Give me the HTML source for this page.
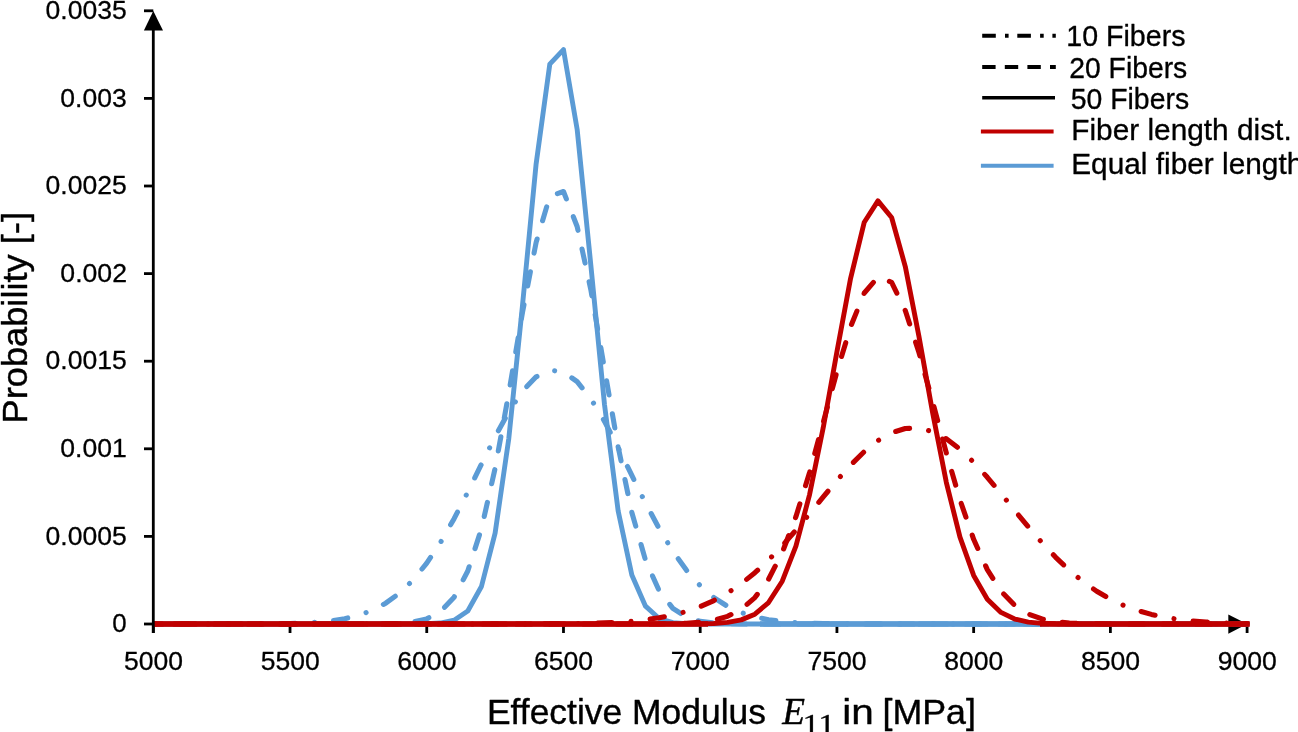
<!DOCTYPE html>
<html lang="en"><head><meta charset="utf-8"><title>Probability of Effective Modulus</title>
<style>html,body{margin:0;padding:0;background:#fff}body{width:1298px;height:732px;overflow:hidden}svg{display:block}</style>
</head><body>
<svg width="1298" height="732" viewBox="0 0 1298 732">
<rect width="1298" height="732" fill="#fff"/>
<g stroke="#000" stroke-width="2.8" fill="none">
<line x1="153.3" y1="624.0" x2="1240" y2="624.0"/>
<line x1="153.30" y1="624.0" x2="153.30" y2="633"/>
<line x1="290.03" y1="624.0" x2="290.03" y2="633"/>
<line x1="426.75" y1="624.0" x2="426.75" y2="633"/>
<line x1="563.48" y1="624.0" x2="563.48" y2="633"/>
<line x1="700.20" y1="624.0" x2="700.20" y2="633"/>
<line x1="836.93" y1="624.0" x2="836.93" y2="633"/>
<line x1="973.65" y1="624.0" x2="973.65" y2="633"/>
<line x1="1110.38" y1="624.0" x2="1110.38" y2="633"/>
<line x1="1247.10" y1="624.0" x2="1247.10" y2="633"/>
</g>
<polygon points="1228.3,614.4 1228.3,633.7 1247.2,624" fill="#000"/>
<clipPath id="plotclip"><rect x="152.6" y="0" width="1100" height="640"/></clipPath>
<g id="series" clip-path="url(#plotclip)">
<path d="M760 624H1042" stroke="#5b9bd5" stroke-width="5.7" fill="none"/>
<polyline points="153.30,624.00 166.97,624.00 180.65,624.00 194.32,624.00 207.99,623.99 221.66,623.99 235.34,623.97 249.01,623.93 262.68,623.86 276.35,623.72 290.03,623.46 303.70,623.00 317.37,622.19 331.04,620.85 344.72,618.69 358.39,615.35 372.06,610.34 385.73,603.15 399.41,593.20 413.08,579.99 426.75,563.15 440.42,542.61 454.10,518.66 467.77,492.11 481.44,464.24 495.11,436.77 508.79,411.71 522.46,391.12 536.13,376.84 549.80,370.22 563.48,371.89 577.15,381.69 590.82,398.69 604.49,421.31 618.17,447.58 631.84,475.45 645.51,502.98 659.18,528.61 672.86,551.26 686.53,570.33 700.20,585.70 713.87,597.55 727.55,606.33 741.22,612.58 754.89,616.86 768.56,619.68 782.24,621.47 795.91,622.57 809.58,623.21 823.25,623.58 836.93,623.79 850.60,623.89 864.27,623.95 877.94,623.98 891.62,623.99 905.29,624.00 918.96,624.00 932.63,624.00 946.31,624.00 959.98,624.00 973.65,624.00 987.32,624.00 1001.00,624.00 1014.67,624.00 1028.34,624.00 1042.01,624.00 1055.69,624.00 1069.36,624.00 1083.03,624.00 1096.70,624.00 1110.38,624.00 1124.05,624.00 1137.72,624.00 1151.39,624.00 1165.07,624.00 1178.74,624.00 1192.41,624.00 1206.08,624.00 1219.76,624.00 1233.43,624.00 1247.10,624.00" fill="none" stroke="#5b9bd5" stroke-width="5.1" stroke-linecap="round" stroke-linejoin="round" stroke-dasharray="14.40 19.165 0.01 19.155" stroke-dashoffset="30.54"/>
<polyline points="153.30,624.00 166.97,624.00 180.65,624.00 194.32,624.00 207.99,624.00 221.66,624.00 235.34,624.00 249.01,624.00 262.68,624.00 276.35,624.00 290.03,624.00 303.70,624.00 317.37,624.00 331.04,624.00 344.72,624.00 358.39,623.98 372.06,623.94 385.73,623.79 399.41,623.33 413.08,622.06 426.75,618.87 440.42,611.71 454.10,597.22 467.77,571.02 481.44,528.75 495.11,468.40 508.79,393.05 522.46,312.54 536.13,242.37 549.80,196.30 563.48,191.50 577.15,226.50 590.82,289.62 604.49,368.82 618.17,447.06 631.84,512.52 645.51,560.19 659.18,590.81 672.86,608.31 686.53,617.26 700.20,621.37 713.87,623.07 727.55,623.70 741.22,623.91 754.89,623.98 768.56,623.99 782.24,624.00 795.91,624.00 809.58,624.00 823.25,624.00 836.93,624.00 850.60,624.00 864.27,624.00 877.94,624.00 891.62,624.00 905.29,624.00 918.96,624.00 932.63,624.00 946.31,624.00 959.98,624.00 973.65,624.00 987.32,624.00 1001.00,624.00 1014.67,624.00 1028.34,624.00 1042.01,624.00 1055.69,624.00 1069.36,624.00 1083.03,624.00 1096.70,624.00 1110.38,624.00 1124.05,624.00 1137.72,624.00 1151.39,624.00 1165.07,624.00 1178.74,624.00 1192.41,624.00 1206.08,624.00 1219.76,624.00 1233.43,624.00 1247.10,624.00" fill="none" stroke="#5b9bd5" stroke-width="5.1" stroke-linecap="round" stroke-linejoin="round" stroke-dasharray="14.40 19.107" stroke-dashoffset="6.21"/>
<polyline points="153.30,624.00 166.97,624.00 180.65,624.00 194.32,624.00 207.99,624.00 221.66,624.00 235.34,624.00 249.01,624.00 262.68,624.00 276.35,624.00 290.03,624.00 303.70,624.00 317.37,624.00 331.04,624.00 344.72,624.00 358.39,624.00 372.06,624.00 385.73,624.00 399.41,624.00 413.08,623.97 426.75,623.81 440.42,623.06 454.10,620.19 467.77,610.97 481.44,586.49 495.11,533.11 508.79,438.61 522.46,305.66 536.13,163.85 549.80,64.06 563.48,49.60 577.15,129.34 590.82,264.89 604.49,404.53 618.17,511.09 631.84,575.10 645.51,606.17 659.18,618.53 672.86,622.59 686.53,623.69 700.20,623.94 713.87,623.99 727.55,624.00 741.22,624.00 754.89,624.00 768.56,624.00 782.24,624.00 795.91,624.00 809.58,624.00 823.25,624.00 836.93,624.00 850.60,624.00 864.27,624.00 877.94,624.00 891.62,624.00 905.29,624.00 918.96,624.00 932.63,624.00 946.31,624.00 959.98,624.00 973.65,624.00 987.32,624.00 1001.00,624.00 1014.67,624.00 1028.34,624.00 1042.01,624.00 1055.69,624.00 1069.36,624.00 1083.03,624.00 1096.70,624.00 1110.38,624.00 1124.05,624.00 1137.72,624.00 1151.39,624.00 1165.07,624.00 1178.74,624.00 1192.41,624.00 1206.08,624.00 1219.76,624.00 1233.43,624.00 1247.10,624.00" fill="none" stroke="#5b9bd5" stroke-width="4.9" stroke-linecap="square" stroke-linejoin="round"/>
<path d="M153.3 624H708M1040 624H1249.6" stroke="#c00000" stroke-width="5.7" fill="none"/>
<polyline points="153.30,624.00 166.97,624.00 180.65,624.00 194.32,624.00 207.99,624.00 221.66,624.00 235.34,624.00 249.01,624.00 262.68,624.00 276.35,624.00 290.03,624.00 303.70,624.00 317.37,624.00 331.04,624.00 344.72,624.00 358.39,624.00 372.06,624.00 385.73,624.00 399.41,624.00 413.08,624.00 426.75,624.00 440.42,624.00 454.10,624.00 467.77,624.00 481.44,623.99 495.11,623.98 508.79,623.97 522.46,623.94 536.13,623.90 549.80,623.83 563.48,623.72 577.15,623.53 590.82,623.24 604.49,622.80 618.17,622.13 631.84,621.15 645.51,619.75 659.18,617.78 672.86,615.07 686.53,611.44 700.20,606.68 713.87,600.59 727.55,592.99 741.22,583.73 754.89,572.73 768.56,560.03 782.24,545.74 795.91,530.17 809.58,513.71 823.25,496.93 836.93,480.48 850.60,465.11 864.27,451.57 877.94,440.57 891.62,432.72 905.29,428.48 918.96,428.09 932.63,431.58 946.31,438.73 959.98,449.15 973.65,462.23 987.32,477.30 1001.00,493.59 1014.67,510.36 1028.34,526.93 1042.01,542.72 1055.69,557.29 1069.36,570.33 1083.03,581.67 1096.70,591.27 1110.38,599.20 1124.05,605.58 1137.72,610.58 1151.39,614.42 1165.07,617.30 1178.74,619.40 1192.41,620.91 1206.08,621.96 1219.76,622.68 1233.43,623.17 1247.10,623.48" fill="none" stroke="#c00000" stroke-width="5.1" stroke-linecap="round" stroke-linejoin="round" stroke-dasharray="14.40 19.247 0.01 19.237" stroke-dashoffset="31.94"/>
<polyline points="153.30,624.00 166.97,624.00 180.65,624.00 194.32,624.00 207.99,624.00 221.66,624.00 235.34,624.00 249.01,624.00 262.68,624.00 276.35,624.00 290.03,624.00 303.70,624.00 317.37,624.00 331.04,624.00 344.72,624.00 358.39,624.00 372.06,624.00 385.73,624.00 399.41,624.00 413.08,624.00 426.75,624.00 440.42,624.00 454.10,624.00 467.77,624.00 481.44,624.00 495.11,624.00 508.79,624.00 522.46,624.00 536.13,624.00 549.80,624.00 563.48,624.00 577.15,624.00 590.82,624.00 604.49,624.00 618.17,624.00 631.84,623.99 645.51,623.96 659.18,623.88 672.86,623.69 686.53,623.24 700.20,622.26 713.87,620.23 727.55,616.34 741.22,609.33 754.89,597.58 768.56,579.21 782.24,552.55 795.91,516.71 809.58,472.39 823.25,422.36 836.93,371.62 850.60,326.70 864.27,293.00 877.94,277.20 891.62,282.30 905.29,310.50 918.96,352.56 932.63,401.81 946.31,452.83 959.98,499.89 973.65,539.32 987.32,569.62 1001.00,591.13 1014.67,605.30 1028.34,613.99 1042.01,618.96 1055.69,621.61 1069.36,622.93 1083.03,623.55 1096.70,623.82 1110.38,623.93 1124.05,623.98 1137.72,623.99 1151.39,624.00 1165.07,624.00 1178.74,624.00 1192.41,624.00 1206.08,624.00 1219.76,624.00 1233.43,624.00 1247.10,624.00" fill="none" stroke="#c00000" stroke-width="5.1" stroke-linecap="round" stroke-linejoin="round" stroke-dasharray="14.40 19.129" stroke-dashoffset="5.53"/>
<polyline points="153.30,624.00 166.97,624.00 180.65,624.00 194.32,624.00 207.99,624.00 221.66,624.00 235.34,624.00 249.01,624.00 262.68,624.00 276.35,624.00 290.03,624.00 303.70,624.00 317.37,624.00 331.04,624.00 344.72,624.00 358.39,624.00 372.06,624.00 385.73,624.00 399.41,624.00 413.08,624.00 426.75,624.00 440.42,624.00 454.10,624.00 467.77,624.00 481.44,624.00 495.11,624.00 508.79,624.00 522.46,624.00 536.13,624.00 549.80,624.00 563.48,624.00 577.15,624.00 590.82,624.00 604.49,624.00 618.17,624.00 631.84,624.00 645.51,624.00 659.18,624.00 672.86,623.99 686.53,623.95 700.20,623.82 713.87,623.45 727.55,622.43 741.22,619.88 754.89,614.16 768.56,602.53 782.24,581.22 795.91,546.15 809.58,494.60 823.25,427.59 836.93,351.72 850.60,278.30 864.27,222.20 877.94,200.90 891.62,217.50 905.29,266.55 918.96,336.49 932.63,412.80 946.31,482.31 959.98,537.19 973.65,575.43 987.32,599.18 1001.00,612.42 1014.67,619.06 1028.34,622.08 1042.01,623.32 1055.69,623.78 1069.36,623.93 1083.03,623.98 1096.70,624.00 1110.38,624.00 1124.05,624.00 1137.72,624.00 1151.39,624.00 1165.07,624.00 1178.74,624.00 1192.41,624.00 1206.08,624.00 1219.76,624.00 1233.43,624.00 1247.10,624.00" fill="none" stroke="#c00000" stroke-width="4.9" stroke-linecap="square" stroke-linejoin="round"/>
</g>
<g stroke="#000" stroke-width="2.8" fill="none">
<line x1="153.3" y1="25" x2="153.3" y2="633"/>
<line x1="144" y1="624.00" x2="153.3" y2="624.00"/>
<line x1="144" y1="536.40" x2="153.3" y2="536.40"/>
<line x1="144" y1="448.80" x2="153.3" y2="448.80"/>
<line x1="144" y1="361.20" x2="153.3" y2="361.20"/>
<line x1="144" y1="273.60" x2="153.3" y2="273.60"/>
<line x1="144" y1="186.00" x2="153.3" y2="186.00"/>
<line x1="144" y1="98.40" x2="153.3" y2="98.40"/>
<line x1="144" y1="10.80" x2="153.3" y2="10.80"/>
</g>
<polygon points="153.3,11 143.9,30.5 163,30.5" fill="#000"/>
<g fill="#000" stroke="#000" stroke-linejoin="round">
<text transform="matrix(1.0329 0 0 1 112.26 632.15)" font-family='"Liberation Sans", sans-serif' font-size="25.07" stroke-width="0.28">0</text>
<text transform="matrix(1.0592 0 0 1 45.54 544.55)" font-family='"Liberation Sans", sans-serif' font-size="25.07" stroke-width="0.28">0.0005</text>
<text transform="matrix(1.0604 0 0 1 60.34 456.95)" font-family='"Liberation Sans", sans-serif' font-size="25.07" stroke-width="0.28">0.001</text>
<text transform="matrix(1.0592 0 0 1 45.54 369.35)" font-family='"Liberation Sans", sans-serif' font-size="25.07" stroke-width="0.28">0.0015</text>
<text transform="matrix(1.0626 0 0 1 60.33 281.75)" font-family='"Liberation Sans", sans-serif' font-size="25.07" stroke-width="0.28">0.002</text>
<text transform="matrix(1.0592 0 0 1 45.54 194.15)" font-family='"Liberation Sans", sans-serif' font-size="25.07" stroke-width="0.28">0.0025</text>
<text transform="matrix(1.0582 0 0 1 60.34 106.55)" font-family='"Liberation Sans", sans-serif' font-size="25.07" stroke-width="0.28">0.003</text>
<text transform="matrix(1.0592 0 0 1 45.54 18.95)" font-family='"Liberation Sans", sans-serif' font-size="25.07" stroke-width="0.28">0.0035</text>
<text transform="matrix(1.0348 0 0 1 124.04 669.54)" font-family='"Liberation Sans", sans-serif' font-size="25.63" stroke-width="0.28">5000</text>
<text transform="matrix(1.0348 0 0 1 260.76 669.54)" font-family='"Liberation Sans", sans-serif' font-size="25.63" stroke-width="0.28">5500</text>
<text transform="matrix(1.0397 0 0 1 397.22 669.54)" font-family='"Liberation Sans", sans-serif' font-size="25.63" stroke-width="0.28">6000</text>
<text transform="matrix(1.0397 0 0 1 533.94 669.54)" font-family='"Liberation Sans", sans-serif' font-size="25.63" stroke-width="0.28">6500</text>
<text transform="matrix(1.0397 0 0 1 670.67 669.54)" font-family='"Liberation Sans", sans-serif' font-size="25.63" stroke-width="0.28">7000</text>
<text transform="matrix(1.0397 0 0 1 807.39 669.54)" font-family='"Liberation Sans", sans-serif' font-size="25.63" stroke-width="0.28">7500</text>
<text transform="matrix(1.0373 0 0 1 944.25 669.54)" font-family='"Liberation Sans", sans-serif' font-size="25.63" stroke-width="0.28">8000</text>
<text transform="matrix(1.0373 0 0 1 1080.98 669.54)" font-family='"Liberation Sans", sans-serif' font-size="25.63" stroke-width="0.28">8500</text>
<text transform="matrix(1.0373 0 0 1 1217.70 669.54)" font-family='"Liberation Sans", sans-serif' font-size="25.63" stroke-width="0.28">9000</text>
<text transform="matrix(1.0321 0 0 1 486.96 723.70)" font-family='"Liberation Sans", sans-serif' font-size="34.35" stroke-width="0.38">Effective Modulus</text>
<text transform="matrix(1.1780 0 0 1 842.37 723.70)" font-family='"Liberation Sans", sans-serif' font-size="34.35" stroke-width="0.38">in</text>
<text transform="matrix(1.0420 0 0 1 882.49 723.70)" font-family='"Liberation Sans", sans-serif' font-size="34.35" stroke-width="0.38">[MPa]</text>
<text transform="matrix(0.9744 0 0 1 782.37 723.70)" font-family='"Liberation Serif", serif' font-size="38.17" stroke-width="0.42" font-style="italic">E</text>
<text transform="matrix(1.2354 0 0 1 802.44 732.80)" font-family='"Liberation Serif", serif' font-size="27.48" stroke-width="0.30">11</text>
<text transform="translate(26.6 420.6) rotate(-90) matrix(1.0087 0 0 1 -2.90 0.00)" font-family='"Liberation Sans", sans-serif' font-size="35.94" stroke-width="0.40">Probability [-]</text>
<text transform="matrix(0.9869 0 0 1 1066.25 46.00)" font-family='"Liberation Sans", sans-serif' font-size="28.99" stroke-width="0.32">10 Fibers</text>
<text transform="matrix(0.9767 0 0 1 1069.28 77.90)" font-family='"Liberation Sans", sans-serif' font-size="28.99" stroke-width="0.32">20 Fibers</text>
<text transform="matrix(0.9793 0 0 1 1070.76 108.90)" font-family='"Liberation Sans", sans-serif' font-size="28.99" stroke-width="0.32">50 Fibers</text>
<text transform="matrix(1.0288 0 0 1 1071.21 139.70)" font-family='"Liberation Sans", sans-serif' font-size="28.99" stroke-width="0.32">Fiber length dist.</text>
<text transform="matrix(1.0288 0 0 1 1071.21 173.80)" font-family='"Liberation Sans", sans-serif' font-size="28.99" stroke-width="0.32">Equal fiber length</text>
</g>
<g fill="none" stroke-width="4">
<path d="M982.2 35.7H1055.8" stroke="#000" stroke-dasharray="13.6 9.2 3.6 8.7"/>
<path d="M982.2 67H1055.8" stroke="#000" stroke-dasharray="13.4 9.2"/>
<path d="M982.2 97.8H1055" stroke="#000" stroke-width="3.6"/>
<path d="M980.9 131.6H1053.6" stroke="#c00000"/>
<path d="M980.9 165.7H1053.6" stroke="#5b9bd5"/>
</g>
</svg>
</body></html>
